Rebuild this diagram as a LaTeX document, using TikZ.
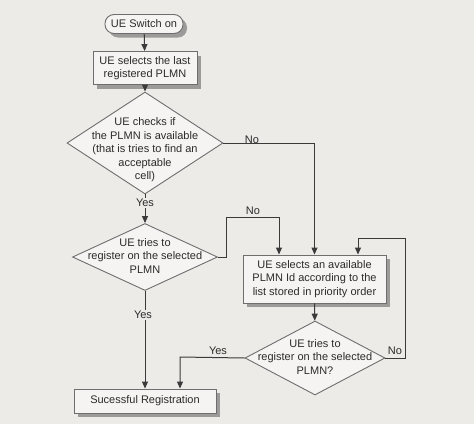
\documentclass[tikz,border=0pt]{standalone}
\usepackage{fontspec}
\setmainfont{Liberation Sans}
\usetikzlibrary{shapes.geometric,arrows.meta,shadows}
\definecolor{bg}{HTML}{ECEBE8}
\definecolor{boxfill}{HTML}{F5F4F2}
\definecolor{edge}{HTML}{6E6E6E}
\definecolor{ink}{HTML}{2B2B2B}
\definecolor{shade}{HTML}{9C9B99}
\definecolor{wire}{HTML}{3A3A3A}
\begin{document}
\begin{tikzpicture}[x=1pt,y=-1pt,
  font=\fontsize{11}{13.5}\selectfont, text=ink,
  box/.style={draw=edge, line width=0.9pt, fill=boxfill, align=center, inner sep=0pt,
    drop shadow={shadow xshift=4pt, shadow yshift=-4pt, fill=shade, opacity=1}},
  term/.style={box, rounded corners=9pt},
  dia/.style={shape=diamond, draw=edge, line width=0.9pt, fill=boxfill, inner sep=0pt, aspect=1.5},
  txt/.style={align=center, inner sep=0pt},
  lbl/.style={inner sep=1pt, fill=bg},
  arr/.style={draw=wire, line width=1pt, -{Triangle[length=7pt,width=6pt]}},
  ln/.style={draw=wire, line width=1pt}]
\fill[bg] (0,0) rectangle (474,424);
\useasboundingbox (0,0) rectangle (474,424);

\node[term, minimum width=78pt, minimum height=19pt] (t) at (144,24) {UE Switch on};
\node[box, minimum width=104pt, minimum height=33pt] (b1) at (145,68) {UE selects the last\\registered PLMN};
\node[dia, minimum width=156pt, minimum height=102pt] (d1) at (145,143) {};
\node[txt] at (145,150) {UE checks if\\the PLMN is available\\(that is tries to find an\\acceptable\\cell)};
\node[dia, minimum width=145pt, minimum height=67pt] (d2) at (145,257) {};
\node[txt] at (145,256) {UE tries to\\register on the selected\\PLMN};
\node[box, minimum width=143pt, minimum height=48pt] (b2) at (314.5,279) {UE selects an available\\PLMN Id according to the\\list stored in priority order};
\node[dia, minimum width=140pt, minimum height=74pt] (d3) at (315,358) {};
\node[txt] at (315,357) {UE tries to\\register on the selected\\PLMN?};
\node[box, minimum width=142pt, minimum height=24pt] (b3) at (145,401) {Sucessful Registration};

\coordinate (c1) at (226,217);
\coordinate (c2) at (279,217);
\coordinate (c3) at (405,238);
\coordinate (c4) at (358,238);
\coordinate (c5) at (180,357);

\path[arr] (t) -- (b1);
\path[arr] (b1) -- (d1);
\path[arr] (d1.east) -| (b2.north);
\path[arr] (d1.south) -- (d2.north);
\path[arr] (d2.east) -| (c1) -- (c2) -- (c2 |- b2.north);
\path[arr] (d2.south) -- (b3.north);
\path[arr] (b2) -- (d3);
\path[arr] (d3.east) -| (c3) -- (c4) -- (c4 |- b2.north);
\path[arr] (d3.west) -- (c5) -- (c5 |- b3.north);

\node[lbl] (y1) at (145,203) {Yes};
\node[lbl] (y2) at (143,315) {Yes};
\node[txt, anchor=south] (n1) at (252,144) {No};
\node[txt, anchor=south] (n2) at (253,215) {No};
\node[txt, anchor=south] (n3) at (395,355) {No};
\node[txt, anchor=south] (y3) at (218,355) {Yes};
\end{tikzpicture}
\end{document}
